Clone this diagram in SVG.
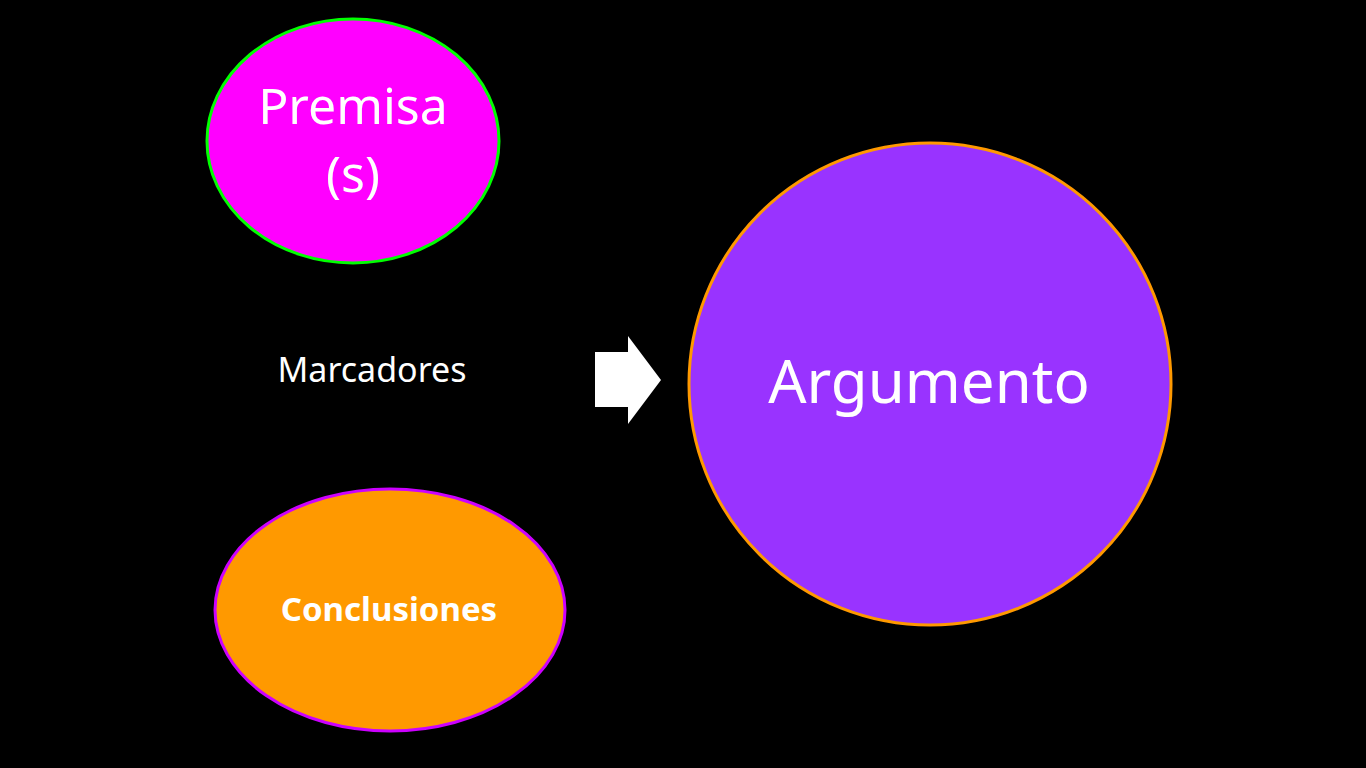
<svg xmlns="http://www.w3.org/2000/svg" width="1366" height="768" viewBox="0 0 1366 768">
<style>
text{font-family:"Noto Sans","Open Sans",sans-serif;fill:#fff;text-anchor:middle}
</style>
<rect width="1366" height="768" fill="#000"/>
<g id="premisa">
<ellipse cx="353" cy="141" rx="146" ry="122" fill="#ff00ff" stroke="#00ff00" stroke-width="3"/>
<text x="353" y="124" font-size="50">Premisa</text>
<text x="353" y="192" font-size="50">(s)</text>
</g>
<g id="marcadores">
<text x="372" y="382" font-size="34">Marcadores</text>
</g>
<g id="conclusiones">
<ellipse cx="390" cy="610" rx="175" ry="121" fill="#ff9900" stroke="#cc00ff" stroke-width="3"/>
<text x="389" y="621" font-size="33" font-weight="bold">Conclusiones</text>
</g>
<g id="argumento">
<circle cx="930" cy="384" r="241" fill="#9933ff" stroke="#ff9900" stroke-width="3"/>
<text x="929" y="403" font-size="60">Argumento</text>
</g>
<g id="connectors">
<polygon points="595,352 628,352 628,336 661,380 628,424 628,407 595,407" fill="#fff"/>
</g>
</svg>
